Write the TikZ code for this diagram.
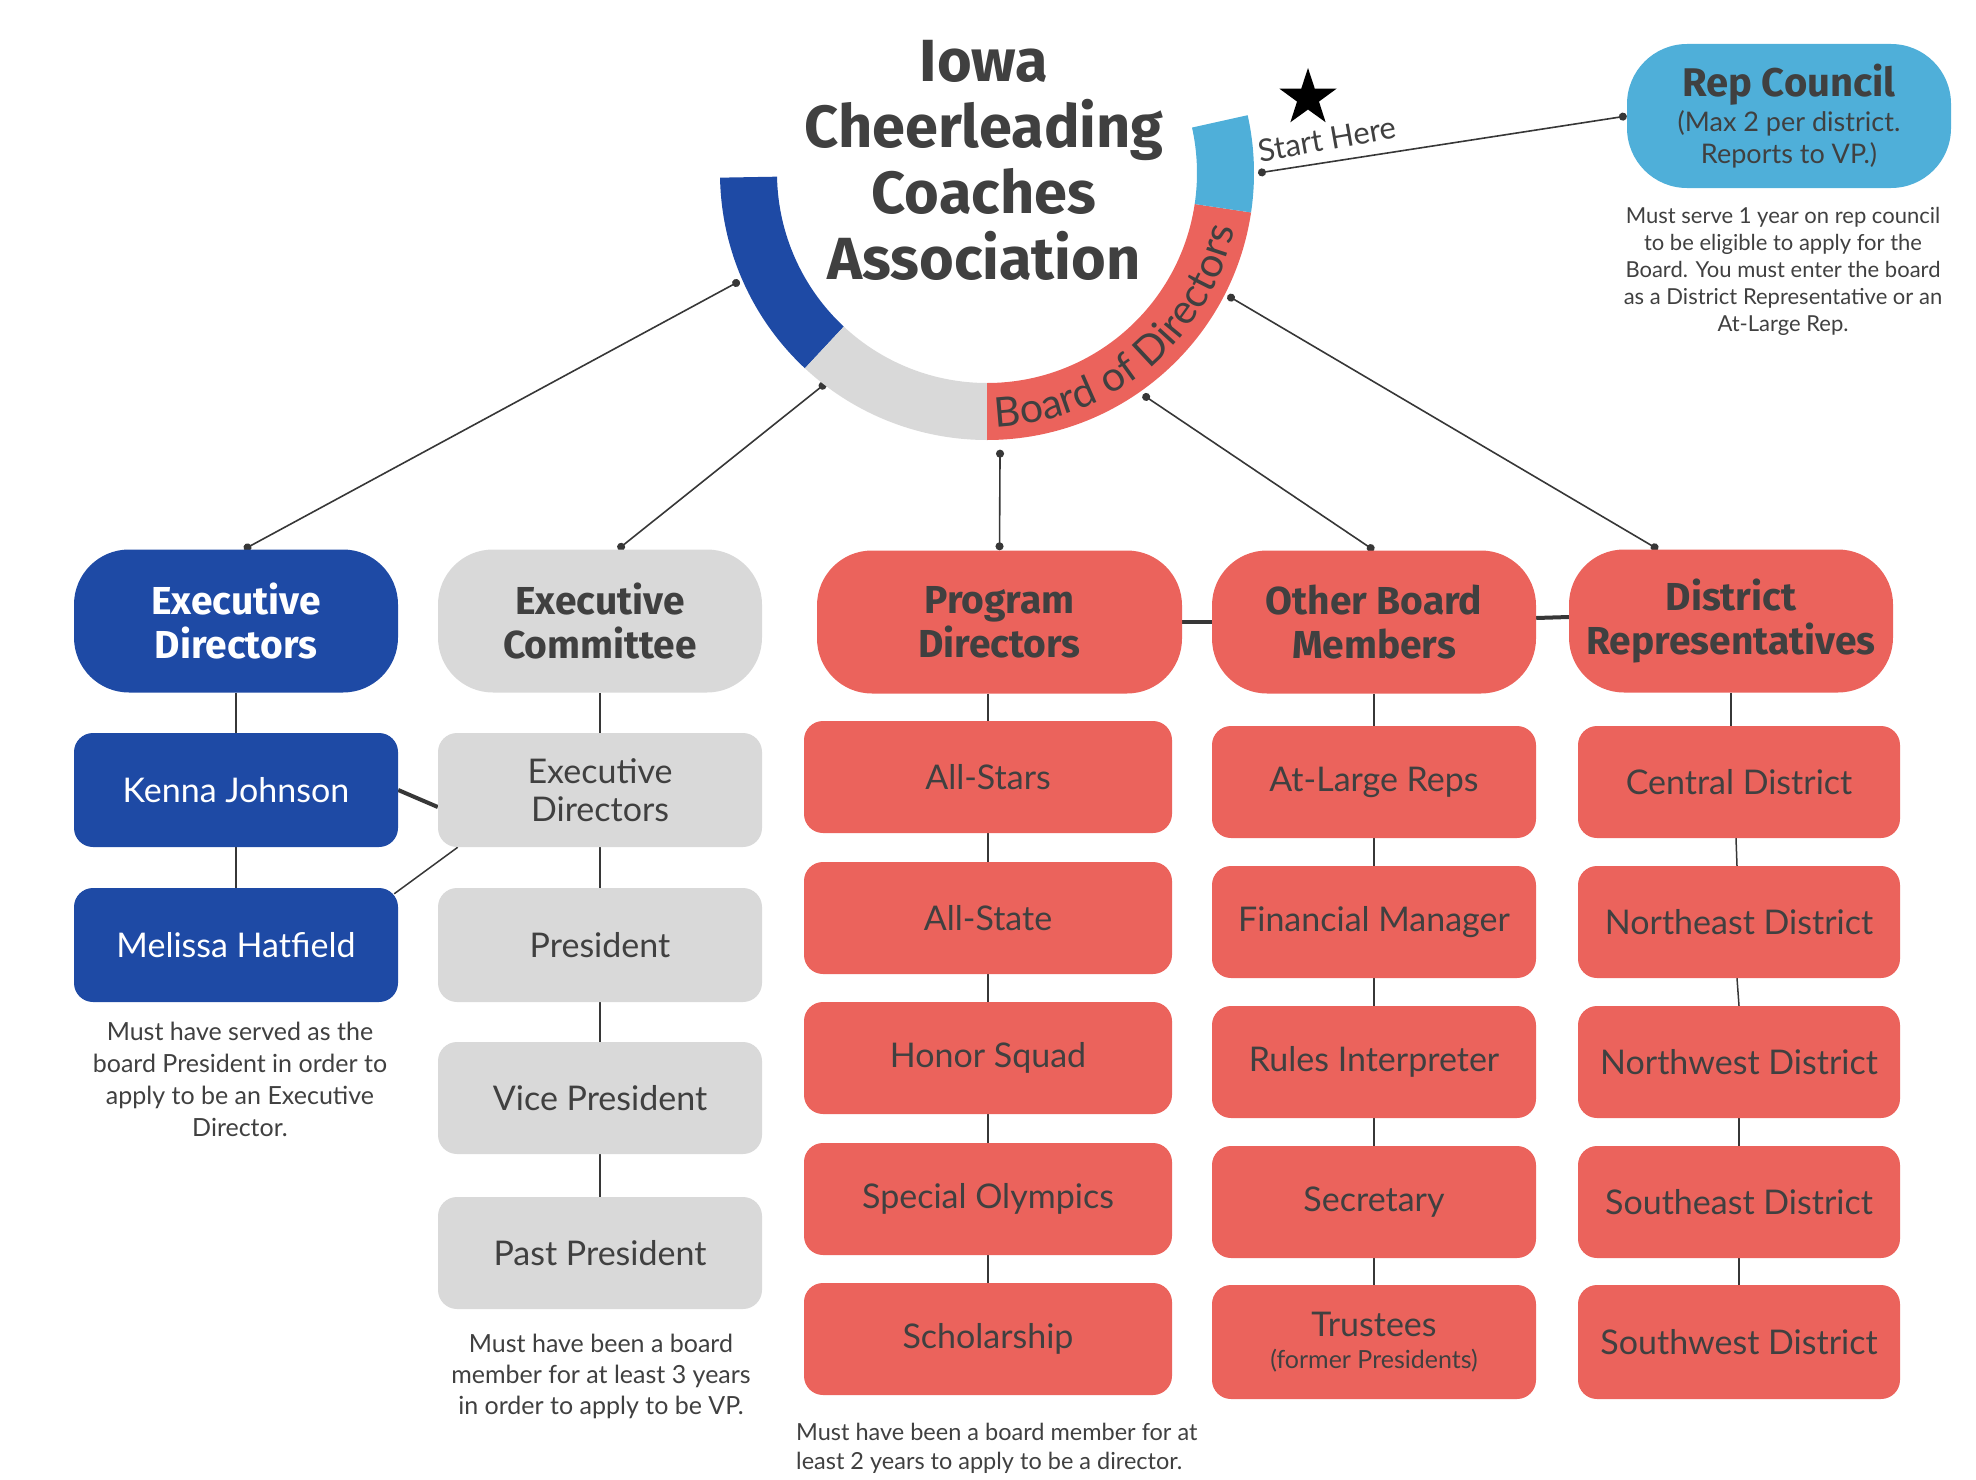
\documentclass[tikz,border=0pt]{standalone}
\usepackage{fontspec}
\setmainfont{Lato}
\newfontfamily\headfont{Fira Sans}
\usetikzlibrary{shapes.geometric,arrows.meta,decorations.text,backgrounds}
\definecolor{cblue}{RGB}{30,74,165}
\definecolor{cgray}{RGB}{217,217,217}
\definecolor{cred}{RGB}{235,99,92}
\definecolor{clblue}{RGB}{79,175,217}
\definecolor{txt}{RGB}{64,64,64}
\definecolor{linec}{RGB}{55,55,55}
\begin{document}
\begin{tikzpicture}[x=1pt,y=1pt,
  hdr/.style={rounded corners=55pt, minimum width=324pt, minimum height=143pt, inner sep=0pt, align=center,
    font=\headfont\bfseries\fontsize{39}{44}\selectfont, text=txt},
  box/.style={rounded corners=19pt, minimum width=324pt, minimum height=112pt, inner sep=0pt, align=center,
    font=\fontsize{34}{38}\selectfont, text=txt},
  note/.style={align=center, inner sep=0pt, text=txt},
  conn/.style={draw=linec, line width=1.6pt, {Circle[length=8pt]}-{Circle[length=8pt]}},
  vline/.style={draw=linec, line width=1.5pt},
  thkline/.style={draw=linec, line width=4pt}]
\useasboundingbox (0,0) rectangle (1976,-1480);

% ring
\coordinate (ring) at (987,-173);
\fill[cblue] ([shift={(181:267pt)}]ring) arc[start angle=181,end angle=227,radius=267pt]
  -- ([shift={(227:210pt)}]ring) arc[start angle=227,end angle=181,radius=210pt] -- cycle;
\fill[cgray] ([shift={(227:267pt)}]ring) arc[start angle=227,end angle=270,radius=267pt]
  -- ([shift={(270:210pt)}]ring) arc[start angle=270,end angle=227,radius=210pt] -- cycle;
\fill[cred] ([shift={(270:267pt)}]ring) arc[start angle=270,end angle=351.5,radius=267pt]
  -- ([shift={(351.5:210pt)}]ring) arc[start angle=351.5,end angle=270,radius=210pt] -- cycle;
\fill[clblue] ([shift={(351.5:267pt)}]ring) arc[start angle=351.5,end angle=372.5,radius=267pt]
  -- ([shift={(372.5:210pt)}]ring) arc[start angle=372.5,end angle=351.5,radius=210pt] -- cycle;
\path[decorate, decoration={text along path, text color=txt,
    text={|\fontsize{41}{43}\selectfont|Board of Directors}}]
  ([shift={(272:254pt)}]ring) arc[start angle=272,end angle=357,radius=254pt];

\coordinate (r0) at ([shift={(0:271pt)}]ring);
\coordinate (r1) at ([shift={(203.6:270pt)}]ring);
\coordinate (r2) at ([shift={(232.5:265pt)}]ring);
\coordinate (r3) at ([shift={(272.7:277pt)}]ring);
\coordinate (r4) at ([shift={(-54.9:271pt)}]ring);
\coordinate (r5) at ([shift={(-27:270pt)}]ring);

% title
\node[font=\headfont\bfseries\fontsize{59.5}{66}\selectfont, text=txt, align=center, anchor=north, inner sep=0pt]
  (title) at (984,-40) {Iowa\\Cheerleading\\Coaches\\Association};

\node[star, star points=5, star point ratio=2.6, fill=black, minimum size=60pt, inner sep=0pt] (star) at (1308,-98) {};
\node[rotate=10, font=\fontsize{31}{33}\selectfont, text=txt, inner sep=0pt] (start) at (1327,-139) {Start Here};

% rep council
\node[rounded corners=60pt, fill=clblue, minimum width=324pt, minimum height=144pt, inner sep=0pt, align=center,
  text=txt, font=\fontsize{27}{32}\selectfont] (rep) at (1789,-116)
  {{\headfont\bfseries\fontsize{40}{42}\selectfont Rep Council}\\[3pt](Max 2 per district.\\Reports to VP.)};
\node[note, font=\fontsize{22}{27}\selectfont] (repnote) at (1783,-271)
  {Must serve 1 year on rep council\\to be eligible to apply for the\\Board. You must enter the board\\as a District Representative or an\\At-Large Rep.};

% headers
\node[hdr, fill=cblue, text=white] (ed) at (236,-621) {Executive\\Directors};
\node[hdr, fill=cgray] (ec) at (600,-621) {Executive\\Committee};
\node[hdr, fill=cred, minimum width=365pt] (pd) at (999.5,-622) {Program\\Directors};
\node[hdr, fill=cred] (ob) at (1374,-622) {Other Board\\Members};
\node[hdr, fill=cred] (dr) at (1731,-621) {District\\Representatives};

% column 1
\node[box, fill=cblue, text=white, minimum height=114pt] (kj) at (236,-790) {Kenna Johnson};
\node[box, fill=cblue, text=white, minimum height=114pt] (mh) at (236,-945) {Melissa Hatfield};
\node[note, font=\fontsize{25}{32}\selectfont] (n1) at (240,-1079)
  {Must have served as the\\board President in order to\\apply to be an Executive\\Director.};

% column 2
\node[box, fill=cgray, minimum height=114pt] (xd) at (600,-790) {Executive\\Directors};
\node[box, fill=cgray, minimum height=114pt] (pr) at (600,-945) {President};
\node[box, fill=cgray] (vp) at (600,-1098) {Vice President};
\node[box, fill=cgray] (pp) at (600,-1253) {Past President};
\node[note, font=\fontsize{25}{31}\selectfont] (n2) at (601,-1376)
  {Must have been a board\\member for at least 3 years\\in order to apply to be VP.};

% column 3
\node[box, fill=cred, minimum width=368pt] (as) at (988,-777) {All-Stars};
\node[box, fill=cred, minimum width=368pt] (ast) at (988,-918) {All-State};
\node[box, fill=cred, minimum width=368pt] (hs) at (988,-1058) {Honor Squad};
\node[box, fill=cred, minimum width=368pt] (so) at (988,-1199) {Special Olympics};
\node[box, fill=cred, minimum width=368pt] (sc) at (988,-1339) {Scholarship};
\node[note, align=left, anchor=west, font=\fontsize{23.5}{29}\selectfont] (n3) at (796,-1448)
  {Must have been a board member for at\\least 2 years to apply to be a director.};

% column 4
\node[box, fill=cred] (al) at (1374,-782) {At-Large Reps};
\node[box, fill=cred] (fm) at (1374,-922) {Financial Manager};
\node[box, fill=cred] (ri) at (1374,-1062) {Rules Interpreter};
\node[box, fill=cred] (se) at (1374,-1202) {Secretary};
\node[box, fill=cred, minimum height=114pt] (tr) at (1374,-1342) {Trustees\\[-6pt]{\fontsize{25}{28}\selectfont (former Presidents)}};

% column 5
\node[box, fill=cred, minimum width=322pt] (cd) at (1739,-782) {Central District};
\node[box, fill=cred, minimum width=322pt] (ne) at (1739,-922) {Northeast District};
\node[box, fill=cred, minimum width=322pt] (nw) at (1739,-1062) {Northwest District};
\node[box, fill=cred, minimum width=322pt] (sed) at (1739,-1202) {Southeast District};
\node[box, fill=cred, minimum width=322pt, minimum height=114pt] (sw) at (1739,-1342) {Southwest District};

\begin{scope}[on background layer]
\draw[conn] (r0) -- (rep.west);
\draw[conn] (r1) -- ([xshift=8pt]ed.north);
\draw[conn] (r2) -- ([xshift=18pt]ec.north);
\draw[conn] (r3) -- (pd.north);
\draw[conn] (r4) -- (ob.north);
\draw[conn] (r5) -- ([xshift=-73pt]dr.north);

\draw[vline] (ed.south) -- (kj.north);
\draw[vline] (kj.south) -- (mh.north);
\draw[vline] (ec.south) -- (xd.north);
\draw[vline] (xd.south) -- (pr.north);
\draw[vline] (pr.south) -- (vp.north);
\draw[vline] (vp.south) -- (pp.north);
\draw[vline] (as.north |- pd.south) -- (as.north);
\draw[vline] (as.south) -- (ast.north);
\draw[vline] (ast.south) -- (hs.north);
\draw[vline] (hs.south) -- (so.north);
\draw[vline] (so.south) -- (sc.north);
\draw[vline] (ob.south) -- (al.north);
\draw[vline] (al.south) -- (fm.north);
\draw[vline] (fm.south) -- (ri.north);
\draw[vline] (ri.south) -- (se.north);
\draw[vline] (se.south) -- (tr.north);
\draw[vline] (dr.south) -- (dr.south |- cd.north);
\draw[vline] ([xshift=-3pt]cd.south) -- ([xshift=-2pt]ne.north);
\draw[vline] ([xshift=-2pt]ne.south) -- (nw.north);
\draw[vline] (nw.south) -- (sed.north);
\draw[vline] (sed.south) -- (sw.north);

\draw[thkline] (pd.east) -- (ob.west);
\draw[thkline] ([yshift=4pt]ob.east) -- ([yshift=4pt]dr.west);
\draw[thkline] (kj.east) -- ([yshift=-17pt]xd.west);
\draw[vline] ([xshift=-4pt,yshift=-6pt]mh.north east) -- ([xshift=20pt]xd.south west);
\end{scope}
\end{tikzpicture}
\end{document}
